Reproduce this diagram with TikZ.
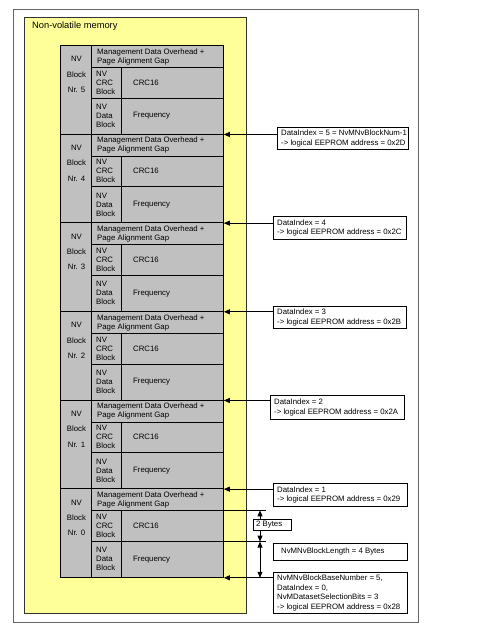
\documentclass[tikz,border=0pt]{standalone}
\usepackage{fontspec}
\setmainfont{Liberation Sans}
\usetikzlibrary{arrows.meta}
\definecolor{memyellow}{HTML}{FFFF99}
\definecolor{cellgray}{HTML}{C0C0C0}
\begin{document}
\begin{tikzpicture}[x=1pt,y=-1pt,
  txt/.style={font=\fontsize{7.8}{9.0}\selectfont, inner sep=0pt, align=left},
  ntxt/.style={font=\fontsize{7.8}{9.4}\selectfont, inner sep=0pt, align=left, anchor=west},
  cell/.style={draw=black, fill=cellgray, line width=0.8pt, anchor=north west, inner sep=0pt},
  note/.style={draw=black, fill=white, line width=0.8pt, anchor=north west, inner sep=0pt},
  arr/.style={-{Triangle[length=6pt,width=5pt]}, line width=0.8pt},
  dbl/.style={{Triangle[length=6pt,width=5pt]}-{Triangle[length=6pt,width=5pt]}, line width=0.8pt},
  plain/.style={line width=0.8pt}]
\useasboundingbox (0,0) rectangle (478,637);
\node[draw=black!60, line width=1pt, anchor=north west, inner sep=0pt, minimum width=405pt, minimum height=613pt] (frame) at (13,9) {};
\node[draw=black!80, fill=memyellow, line width=0.9pt, anchor=north west, inner sep=0pt, minimum width=222pt, minimum height=596pt] (mem) at (24,17) {};
\node[font=\fontsize{9.3}{11}\selectfont, inner sep=0pt, anchor=west] (memlbl) at (32,26) {Non-volatile memory};
\foreach \i in {0,...,5}{
  \pgfmathsetmacro\t{45+(5-\i)*88.667}
  \node[cell, minimum width=31pt, minimum height=88.667pt] (lab\i) at (60,\t) {};
  \node[cell, minimum width=132pt, minimum height=22pt] (mg\i) at (91,\t) {};
  \node[cell, minimum width=30pt, minimum height=30.5pt] (cn\i) at (91,\t+22) {};
  \node[cell, minimum width=102pt, minimum height=30.5pt] (cv\i) at (121,\t+22) {};
  \node[cell, minimum width=30pt, minimum height=36.167pt] (dn\i) at (91,\t+52.5) {};
  \node[cell, minimum width=102pt, minimum height=36.167pt] (dv\i) at (121,\t+52.5) {};
  \node[txt, align=center] (labt\i) at (76.5,\t+29.5) {NV\\[6.4pt]Block\\[6.4pt]Nr. \i};
  \node[txt, anchor=west] (mgt\i) at (97,\t+11.5) {Management Data Overhead +\\Page Alignment Gap};
  \node[txt, anchor=west] (cnt\i) at (96,\t+37.5) {NV\\CRC\\Block};
  \node[txt, anchor=west] (cvt\i) at (133,\t+37.5) {CRC16};
  \node[txt, anchor=west] (dnt\i) at (96,\t+71) {NV\\Data\\Block};
  \node[txt, anchor=west] (dvt\i) at (133,\t+71) {Frequency};
}
\node[note, minimum width=131pt, minimum height=22pt] (d5) at (277,127) {};
\node[note, minimum width=133pt, minimum height=23pt] (d4) at (273,216) {};
\node[note, minimum width=133pt, minimum height=22pt] (d3) at (273,306) {};
\node[note, minimum width=134pt, minimum height=24pt] (d2) at (270,395) {};
\node[note, minimum width=134pt, minimum height=23pt] (d1) at (273,483) {};
\node[note, minimum width=134pt, minimum height=17pt] (len) at (273,543) {};
\node[note, minimum width=134pt, minimum height=41pt] (base) at (273,572) {};
\node[ntxt] (d5t) at ([xshift=4pt]d5.west) {DataIndex = 5 = NvMNvBlockNum-1\\-> logical EEPROM address = 0x2D};
\node[ntxt] (d4t) at ([xshift=4pt]d4.west) {DataIndex = 4\\-> logical EEPROM address = 0x2C};
\node[ntxt] (d3t) at ([xshift=4pt]d3.west) {DataIndex = 3\\-> logical EEPROM address = 0x2B};
\node[ntxt] (d2t) at ([xshift=4pt]d2.west) {DataIndex = 2\\-> logical EEPROM address = 0x2A};
\node[ntxt] (d1t) at ([xshift=4pt]d1.west) {DataIndex = 1\\-> logical EEPROM address = 0x29};
\node[ntxt] (lent) at ([xshift=8pt]len.west) {NvMNvBlockLength = 4 Bytes};
\node[ntxt] (baset) at ([xshift=4pt]base.west) {NvMNvBlockBaseNumber = 5,\\DataIndex = 0,\\NvMDatasetSelectionBits = 3\\-> logical EEPROM address = 0x28};
\foreach \i in {1,...,5}{
  \draw[arr] (d\i.west |- dv\i.south east) -- (dv\i.south east);
}
\draw[arr] (base.west |- dv0.south east) -- (dv0.south east);
\coordinate (dimx) at (260,0);
\coordinate (extx) at (266,0);
\draw[plain] (cv0.north east) -- (cv0.north east -| extx);
\draw[plain] (cv0.south east) -- (cv0.south east -| extx);
\draw[dbl] (cv0.north east -| dimx) -- (cv0.south east -| dimx);
\draw[dbl] (cv0.south east -| dimx) -- (dv0.south east -| dimx);
\node[note, minimum width=38pt, minimum height=11pt] (two) at (253,519) {};
\node[ntxt] (twot) at ([xshift=3pt]two.west) {2 Bytes};
\end{tikzpicture}
\end{document}
